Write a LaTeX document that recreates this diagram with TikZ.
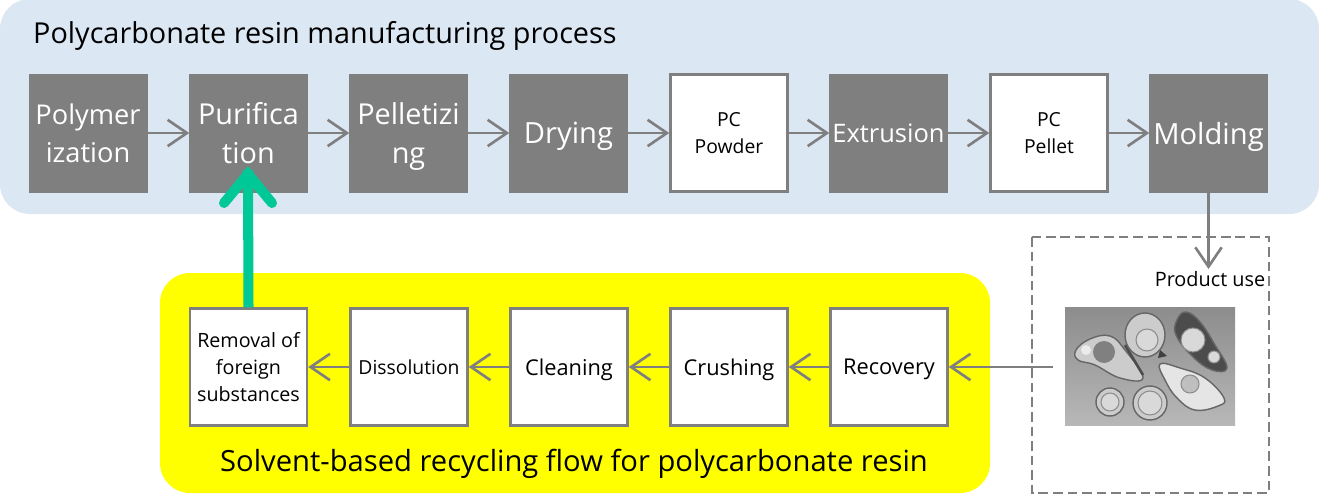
\documentclass[tikz,border=0pt]{standalone}
\usepackage{fontspec}
\setmainfont{Open Sans}
\usepackage{xcolor}
\usepackage{tikz}
\usetikzlibrary{arrows.meta,calc}

\definecolor{colPanel}{RGB}{220,231,244}
\definecolor{colStep}{RGB}{127,127,127}
\definecolor{colGreen}{RGB}{0,200,150}
\definecolor{colYellow}{RGB}{255,255,0}

\tikzset{
	stepgray/.style={fill=colStep,draw=colStep,minimum width=67pt,minimum height=67pt,inner sep=0pt,text depth=0pt,text=white,align=center,font=\fontsize{16.4}{22.5}\selectfont},
	stepwhite/.style={fill=white,draw=colStep,line width=1.5pt,minimum width=66.5pt,minimum height=66.5pt,inner sep=0pt,text depth=0pt,text=black,align=center,font=\fontsize{12.4}{15}\selectfont},
	flow/.style={draw=colStep,line width=1.5pt,-{Straight Barb[length=11pt,width=15pt,line width=1.5pt]}},
	lamp/.style={draw=black!60,fill=black!20,line width=.8pt},
	lens/.style={fill=white!85!black,draw=black!45,line width=.6pt}
}

\begin{document}
\begin{tikzpicture}[x=0.02cm,y=-0.02cm]
	\useasboundingbox (0, 0) rectangle (1319, 500);

	\fill[colPanel,rounded corners=17pt] (0, -1) rectangle (1319, 214);
	\fill[colYellow,rounded corners=17pt] (160, 273) rectangle (990, 493);
	\draw[colStep,line width=1.6pt,dash pattern=on 5.5pt off 2.8pt] (1032, 237) rectangle (1269, 493);

	\node[anchor=west,font=\fontsize{16.4}{20}\selectfont] (title) at (27, 36) {Polycarbonate resin manufacturing process};
	\node[font=\fontsize{16.6}{20}\selectfont] (subtitle) at (574, 464) {Solvent-based recycling flow for polycarbonate resin};

	\node[stepgray,font=\fontsize{15.5}{21.5}\selectfont] (polymer) at (88, 133) {Polymer\\ization};
	\node[stepgray] (purify) at (248.5, 133) {Purifica\\tion};
	\node[stepgray] (pellet) at (408.5, 133) {Pelletizi\\ng};
	\node[stepgray,font=\fontsize{16.6}{22.5}\selectfont] (drying) at (568.5, 133) {Drying};
	\node[stepwhite,font=\fontsize{11}{15.5}\selectfont] (powder) at (729, 133) {PC\\Powder};
	\node[stepgray,font=\fontsize{14.5}{20}\selectfont] (extrusion) at (888.5, 133) {Extrusion};
	\node[stepwhite,font=\fontsize{11}{15.5}\selectfont] (pcpellet) at (1049, 133) {PC\\Pellet};
	\node[stepgray,font=\fontsize{16.6}{22.5}\selectfont] (molding) at (1208.5, 133) {Molding};

	\node[stepwhite,font=\fontsize{11.2}{15.5}\selectfont] (removal) at (248.5, 367) {Removal of\\foreign\\substances};
	\node[stepwhite,font=\fontsize{11}{15}\selectfont] (dissolve) at (409, 367) {Dissolution};
	\node[stepwhite] (cleaning) at (569, 367) {Cleaning};
	\node[stepwhite] (crushing) at (729, 367) {Crushing};
	\node[stepwhite] (recovery) at (889, 367) {Recovery};

	\node[font=\fontsize{11.3}{15}\selectfont] (use) at (1210, 279) {Product use};
	\coordinate (useTop) at (1208.5, 269);
	\coordinate (photoLeft) at (1053, 367);
	\coordinate (greenTip) at (248, 170);

	\begin{scope}[flow]
		\draw (polymer) -- (purify);
		\draw (purify) -- (pellet);
		\draw (pellet) -- (drying);
		\draw (drying) -- (powder);
		\draw (powder) -- (extrusion);
		\draw (extrusion) -- (pcpellet);
		\draw (pcpellet) -- (molding);
		\draw (molding) -- (useTop);
		\draw (photoLeft) -- (recovery);
		\draw (recovery) -- (crushing);
		\draw (crushing) -- (cleaning);
		\draw (cleaning) -- (dissolve);
		\draw (dissolve) -- (removal);
	\end{scope}

	\draw[colGreen,line width=5.7pt] (removal.north) -- (greenTip);
	\draw[colGreen,line width=5.7pt,line cap=round,line join=miter] (224, 203) -- (248, 174) -- (272, 203);

	\begin{scope}
		\shade[top color=black!45,bottom color=black!28] (1065, 307) rectangle (1235, 425);

		\draw[lamp] plot[smooth cycle,tension=.7] coordinates {(1076,350) (1090,339) (1110,336) (1125,350) (1143,378) (1120,378) (1095,365) (1078,360)};
		\draw[black!70,line width=1.5pt] (1125,345) -- (1143,375);
		\fill[black!50] (1104,352) circle (11);
		\fill[black!8] (1086,350) circle (5);

		\draw[lamp] (1145,335) ellipse (20 and 22);
		\draw[lens] (1147,340) circle (11);
		\fill[black!75] (1160,350) -- (1167,356) -- (1158,358) -- cycle;

		\draw[lamp,fill=black!70] plot[smooth cycle,tension=.7] coordinates {(1186,312) (1200,322) (1215,345) (1227,368) (1212,370) (1192,356) (1176,335) (1177,320)};
		\draw[lens] (1193,340) circle (12);
		\draw[lens] (1214,357) circle (6);

		\draw[lamp,fill=black!10] plot[smooth cycle,tension=.7] coordinates {(1160,364) (1180,368) (1205,378) (1224,398) (1218,406) (1195,410) (1177,398) (1165,380)};
		\draw[lens,fill=black!25] (1190,384) circle (9);

		\draw[lamp] (1110,402) circle (14);
		\draw[lens] (1110,402) circle (9);
		\draw[lamp] (1150,403) circle (17);
		\draw[lens] (1150,403) circle (12);
	\end{scope}
\end{tikzpicture}
\end{document}
